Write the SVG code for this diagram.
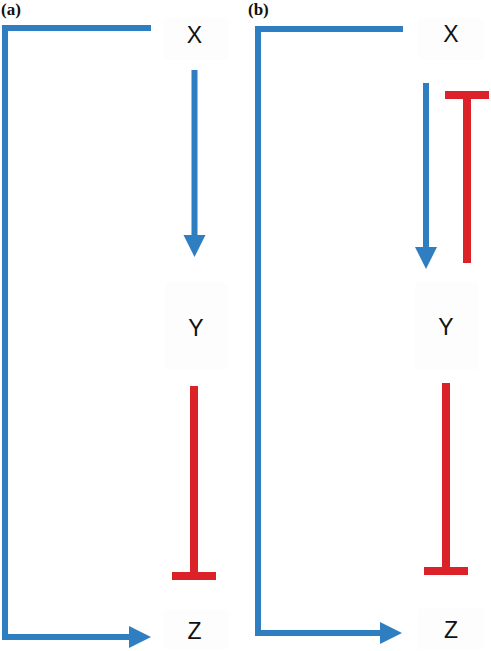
<svg xmlns="http://www.w3.org/2000/svg" width="491" height="651" viewBox="0 0 491 651">
<style>
.bg{fill:#ffffff}
.box{fill:#fdfdfd;stroke:none}
.lbl{font-family:"Liberation Sans",Arial,sans-serif;font-size:23px;fill:#111;text-anchor:middle}
.panel{font-family:"Liberation Serif","Times New Roman",serif;font-size:17px;font-weight:bold;fill:#111}
.act{fill:none;stroke:#2f7ec1;stroke-width:6;stroke-linejoin:miter}
.inh{fill:none;stroke:#db2228;stroke-width:8}
</style>
<defs>
<marker id="arr" markerUnits="userSpaceOnUse" markerWidth="24" markerHeight="22" viewBox="0 0 24 22" refX="2" refY="11" orient="auto" overflow="visible">
<path d="M0,0 L22,11 L0,22 Z" fill="#2f7ec1"/>
</marker>
<marker id="tbar" markerUnits="userSpaceOnUse" markerWidth="10" markerHeight="46" viewBox="0 0 10 46" refX="5" refY="23" orient="auto" overflow="visible">
<path d="M1,1 H9 V45 H1 Z" fill="#db2228"/>
</marker>
</defs>
<rect class="bg" x="0" y="0" width="491" height="651"/>
<text class="panel" x="1" y="15">(a)</text>
<text class="panel" x="248" y="15">(b)</text>
<g id="a-X"><rect class="box" x="163" y="18" width="66" height="42" rx="4"/><text class="lbl" x="194.5" y="43">X</text></g>
<g id="a-Y"><rect class="box" x="165" y="282" width="63" height="88" rx="4"/><text class="lbl" x="196" y="336">Y</text></g>
<g id="a-Z"><rect class="box" x="163" y="610" width="66" height="40" rx="4"/><text class="lbl" x="194.5" y="639">Z</text></g>
<g id="b-X"><rect class="box" x="418" y="18" width="66" height="42" rx="4"/><text class="lbl" x="451" y="42">X</text></g>
<g id="b-Y"><rect class="box" x="415" y="282" width="63" height="88" rx="4"/><text class="lbl" x="446" y="335">Y</text></g>
<g id="b-Z"><rect class="box" x="418" y="608" width="66" height="42" rx="4"/><text class="lbl" x="451" y="638">Z</text></g>
<g id="connectors">
<path class="act" d="M151,28 H5 V637 H131" marker-end="url(#arr)"/>
<path class="act" d="M194.5,70 V237" marker-end="url(#arr)"/>
<path class="inh" d="M194,386 V576" marker-end="url(#tbar)"/>
<path class="act" d="M403,29 H258 V633 H382" marker-end="url(#arr)"/>
<path class="act" d="M426,83 V249" marker-end="url(#arr)"/>
<path class="inh" d="M467,263 V95" marker-end="url(#tbar)"/>
<path class="inh" d="M446,383 V571" marker-end="url(#tbar)"/>
</g>
</svg>
